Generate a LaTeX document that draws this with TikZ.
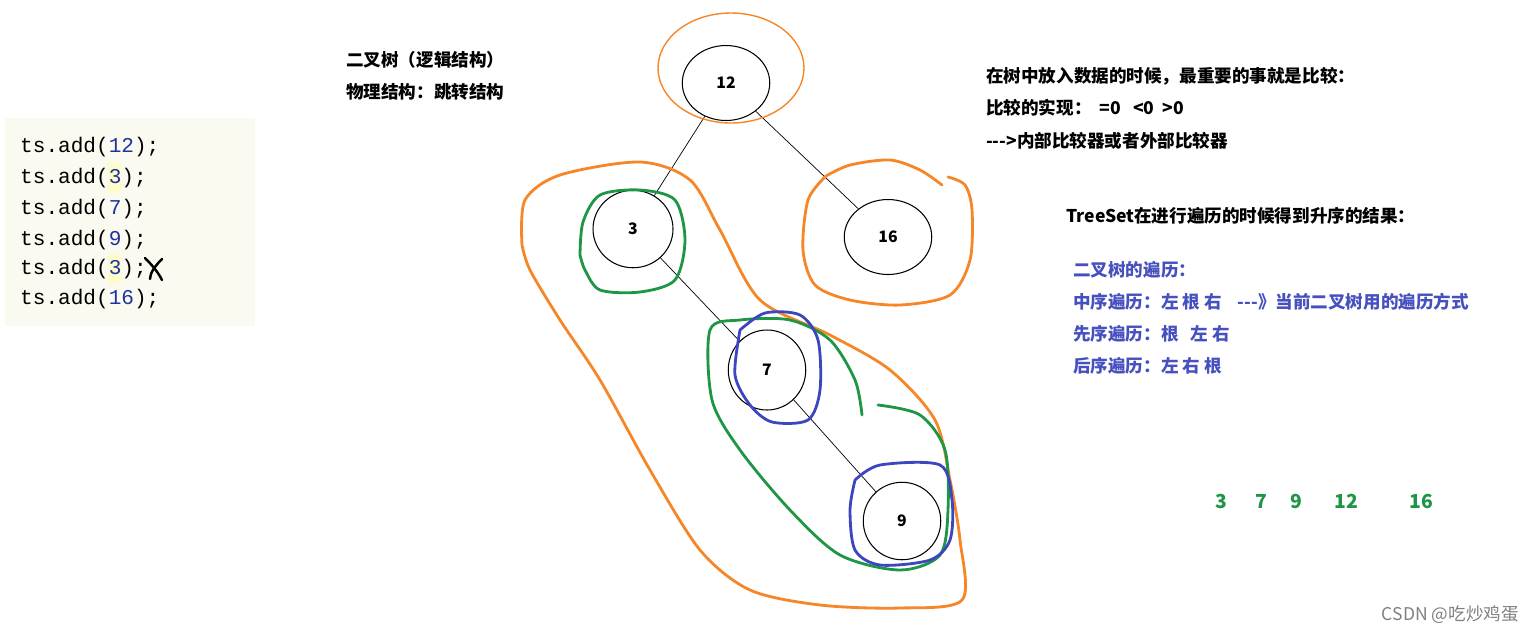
\documentclass[tikz,border=0pt]{standalone}
\usepackage{fontspec}
\setmainfont{Noto Sans CJK SC}
\newfontfamily\codefont{Liberation Mono}
\usetikzlibrary{positioning,shapes.geometric}
\definecolor{penorange}{RGB}{245,135,40}
\definecolor{pengreen}{RGB}{30,150,70}
\definecolor{penblue}{RGB}{60,70,190}
\definecolor{textblue}{RGB}{70,80,190}
\definecolor{codebg}{RGB}{250,250,240}
\definecolor{codenum}{RGB}{30,50,160}
\tikzset{
  treenode/.style={draw,ellipse,line width=0.6pt,minimum width=1.75cm,minimum height=1.5cm,font=\bfseries\small},
  codeline/.style={anchor=west,font=\codefont\fontsize{12}{12}\selectfont},
  note/.style={anchor=west,font=\bfseries\fontsize{10}{10}\selectfont},
  pen/.style={line width=1.6pt,line cap=round,line join=round,smooth}
}
\newcommand{\nm}[1]{\textcolor{codenum}{#1}}
\begin{document}
\begin{tikzpicture}[x=0.02cm,y=-0.02cm]
\useasboundingbox (0,0) rectangle (1537,633);
% code box
\fill[codebg] (5,118) rectangle (255,326);
\fill[yellow!20] (108,163) rectangle (121,193);
\fill[yellow!20] (108,254) rectangle (121,284);
\node[codeline] (c1) at (14,147) {ts.add(\nm{12});};
\node[codeline] (c2) at (14,178) {ts.add(\nm{3});};
\node[codeline] (c3) at (14,209) {ts.add(\nm{7});};
\node[codeline] (c4) at (14,240) {ts.add(\nm{9});};
\node[codeline] (c5) at (14,269) {ts.add(\nm{3});};
\node[codeline] (c6) at (14,299) {ts.add(\nm{16});};
\draw[line width=1.4pt,line cap=round] (145,258) .. controls (152,265) and (158,272) .. (162,280);
\draw[line width=1.4pt,line cap=round] (162,259) .. controls (155,266) and (150,273) .. (150,279);
% notes
\node[note] (t1) at (340,60) {二叉树（逻辑结构）};
\node[note] (t2) at (340,92) {物理结构：跳转结构};
\node[note] (t3) at (980,76) {在树中放入数据的时候，最重要的事就是比较：};
\node[note] (t4) at (980,108) {比较的实现：\ \ =0\ \ \ <0\ \ >0};
\node[note] (t5) at (980,141) {{-}{-}{-}>内部比较器或者外部比较器};
\node[note] (t6) at (1060,216) {TreeSet在进行遍历的时候得到升序的结果：};
\begin{scope}[every node/.append style={text=textblue}]
\node[note] (o1) at (1067,270) {二叉树的遍历：};
\node[note] (o2) at (1067,302) {中序遍历：左\ 根 右\ \ \ \ {-}{-}{-}》当前二叉树用的遍历方式};
\node[note] (o3) at (1067,334) {先序遍历：根\ \ \ 左 右};
\node[note] (o4) at (1067,366) {后序遍历：左\ 右\ 根};
\end{scope}
\foreach \v/\x in {3/1221,7/1261,9/1296,12/1346,16/1421}
  \node[font=\bfseries\fontsize{11}{11}\selectfont,text=pengreen] (r\v) at (\x,501) {\v};
% tree
\node[treenode] (n12) at (726,83) {12};
\node[treenode,minimum width=1.6cm,minimum height=1.55cm] (n3) at (633,229) {3};
\node[treenode] (n16) at (888,237) {16};
\node[treenode,minimum width=1.55cm,minimum height=1.6cm] (n7) at (767,370) {7};
\node[treenode,minimum width=1.55cm,minimum height=1.55cm] (n9) at (902,521) {9};
\draw[thin] (n12) -- (n3);
\draw[thin] (n12) -- (n16);
\draw[thin] (n3) -- (n7);
\draw[thin] (n7) -- (n9);
% pen strokes
\draw[penorange,line width=0.8pt] (731,68) ellipse (73 and 55);
\draw[pen,penorange] plot coordinates {(522,245) (525,200) (560,175) (640,162) (690,180) (720,230) (760,300) (830,335) (890,370) (935,420) (950,480) (960,540) (962,600) (900,608) (820,605) (750,590) (700,550) (650,470) (600,380) (560,320) (530,270) (522,245)};
\draw[pen,penorange] plot coordinates {(826,176) (850,165) (890,160) (920,170) (942,185)};
\draw[pen,penorange] plot coordinates {(826,176) (808,200) (803,250) (815,285) (850,300) (900,305) (950,295) (970,260) (972,210) (965,185) (948,177)};
\draw[pen,pengreen] plot coordinates {(580,255) (583,222) (600,195) (640,190) (675,200) (685,240) (675,280) (640,292) (600,290) (585,270) (580,255)};
\draw[pen,pengreen] plot coordinates {(862,415) (855,380) (830,340) (790,320) (740,320) (710,330) (712,400) (740,450) (790,510) (840,555) (900,570) (940,555) (948,510) (945,450) (920,415) (878,405)};
\draw[pen,penblue] plot coordinates {(740,330) (765,313) (800,315) (818,340) (820,390) (808,420) (772,422) (750,405) (735,375) (740,330)};
\draw[pen,penblue] plot coordinates {(855,480) (880,465) (940,465) (952,500) (950,540) (930,560) (880,565) (855,550) (850,510) (855,480)};
\node[font=\fontsize{10}{10}\selectfont,text=gray,anchor=east] (wm) at (1525,615) {CSDN @吃炒鸡蛋};
\end{tikzpicture}
\end{document}
